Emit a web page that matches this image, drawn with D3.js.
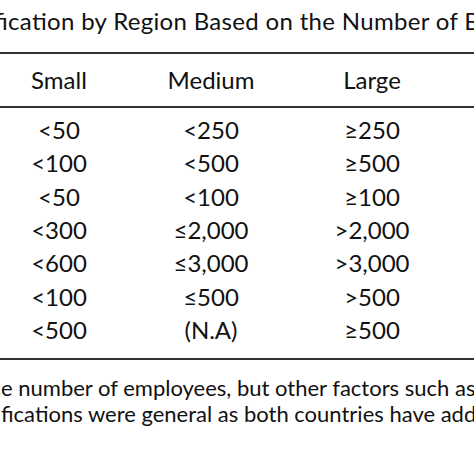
<!DOCTYPE html>
<html>
<head>
<meta charset="UTF-8">
<script src="https://cdn.jsdelivr.net/npm/d3@7"></script>
<style>
  body { margin: 0; background: #fff; }
  text { font-family: Lato, "Open Sans", sans-serif; fill: #111; }
</style>
</head>
<body>
<div id="chart"></div>
<script>
var title = "fication by Region Based on the Number of E";
var columns = ["Small", "Medium", "Large"];
var small = ["<50", "<100", "<50", "<300", "<600", "<100", "<500"];
var medium = ["<250", "<500", "<100", "\u22642,000", "\u22643,000", "\u2264500", "(N.A)"];
var large = ["\u2265250", "\u2265500", "\u2265100", ">2,000", ">3,000", ">500", "\u2265500"];
var notes = ["e number of employees, but other factors such as",
             "fications were general as both countries have addi"];

var W = 474, H = 474;
var svg = d3.select("#chart").append("svg").attr("width", W).attr("height", H);

var x = d3.scaleOrdinal().domain(columns).range([59, 211, 372]);
var y = d3.scaleLinear().domain([0, small.length - 1]).range([139, 339]);

svg.append("text").attr("x", -6).attr("y", 30).style("font-size", "24px")
  .attr("textLength", 484).attr("lengthAdjust", "spacing").text(title);

// rules
[53, 107, 359].forEach(function(r) {
  svg.append("line").attr("x1", 0).attr("x2", W).attr("y1", r).attr("y2", r)
    .attr("stroke", "#333").attr("stroke-width", 2);
});

svg.selectAll(".head").data(columns).enter().append("text")
  .attr("x", function(d) { return x(d); }).attr("y", 89)
  .attr("text-anchor", "middle").style("font-size", "24px").text(function(d) { return d; });

var cols = [small, medium, large];
cols.forEach(function(vals, ci) {
  svg.selectAll(".c" + ci).data(vals).enter().append("text")
    .attr("x", x(columns[ci])).attr("y", function(d, i) { return y(i); })
    .attr("text-anchor", "middle").style("font-size", "24px").text(function(d) { return d; });
});

svg.selectAll(".note").data(notes).enter().append("text")
  .attr("x", 1).attr("y", function(d, i) { return 396 + i * 26; })
  .style("font-size", "22px").text(function(d) { return d; });
</script>
</body>
</html>
